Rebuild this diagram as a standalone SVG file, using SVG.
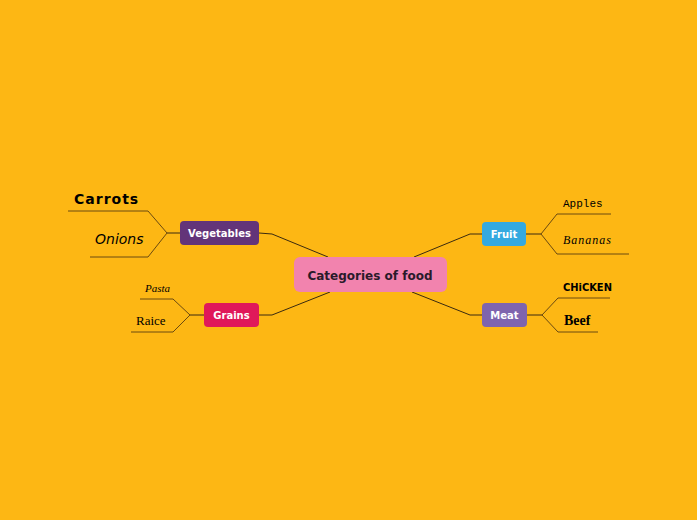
<svg xmlns="http://www.w3.org/2000/svg" width="697" height="520" viewBox="0 0 697 520">
<style>
.n{font-family:"DejaVu Sans",sans-serif;font-weight:bold;fill:#fff;font-size:10px;text-anchor:middle}
.c path{fill:none;stroke:#3a2a10;stroke-width:1}
.c path.s{stroke:#6b4a10}
</style>
<rect width="697" height="520" fill="#FDB714"/>
<g class="c">
<path d="M328,257 L272,234 L259,233"/>
<path d="M330,292 L272,315 L259,315"/>
<path d="M414,257 L470,234 L482,234"/>
<path d="M412,292 L470,315 L482,315"/>
<path d="M180,233 L167,233"/>
<path class="s" d="M167,233 L148,211 L68,211 M167,233 L148,257 L90,257"/>
<path d="M204,315 L190,315"/>
<path class="s" d="M190,315 L173,299 L140,299 M190,315 L173,332 L131,332"/>
<path d="M526,234 L541,234"/>
<path class="s" d="M541,234 L557,214 L611,214 M541,234 L557,254 L629,254"/>
<path d="M527,315 L542,315"/>
<path class="s" d="M542,315 L558,298 L610,298 M542,315 L558,332 L598,332"/>
</g>
<g id="center"><rect x="294" y="257" width="153" height="35" rx="6" fill="#F283AE"/><text x="370" y="280" class="n" style="fill:#2a1a2a;font-size:12px">Categories of food</text></g>
<g id="vegetables"><rect x="180" y="221" width="79" height="24" rx="4" fill="#633479"/><text x="219.500" y="237" class="n">Vegetables</text></g>
<g id="grains"><rect x="204" y="303" width="55" height="24" rx="4" fill="#E0185A"/><text x="231.500" y="319" class="n">Grains</text></g>
<g id="fruit"><rect x="482" y="222" width="44" height="24" rx="4" fill="#35A9E0"/><text x="504" y="238" class="n">Fruit</text></g>
<g id="meat"><rect x="482" y="303" width="45" height="24" rx="4" fill="#7E64AE"/><text x="504.500" y="319" class="n">Meat</text></g>
<g id="carrots"><text x="74" y="204" font-family="'DejaVu Sans',sans-serif" font-weight="900" font-size="14" letter-spacing="1">Carrots</text></g>
<g id="onions"><text x="95" y="244" font-family="'DejaVu Sans',sans-serif" font-size="14" font-style="italic" font-weight="300">Onions</text></g>
<g id="pasta"><text x="145" y="292" font-family="'Liberation Serif',serif" font-style="italic" font-size="11">Pasta</text></g>
<g id="raice"><text x="136" y="325" font-family="'Liberation Serif',serif" font-size="13">Raice</text></g>
<g id="apples"><text x="563" y="207" font-family="'Liberation Mono',monospace" font-size="11">Apples</text></g>
<g id="bananas"><text x="563" y="244" font-family="'Liberation Serif',serif" font-style="italic" font-size="12" letter-spacing="1">Bananas</text></g>
<g id="chicken"><text x="563" y="291" font-family="'DejaVu Sans Condensed','DejaVu Sans',sans-serif" font-weight="bold" font-size="11">CHiCKEN</text></g>
<g id="beef"><text x="564" y="325" font-family="'Liberation Serif',serif" font-weight="bold" font-size="14">Beef</text></g>
</svg>
